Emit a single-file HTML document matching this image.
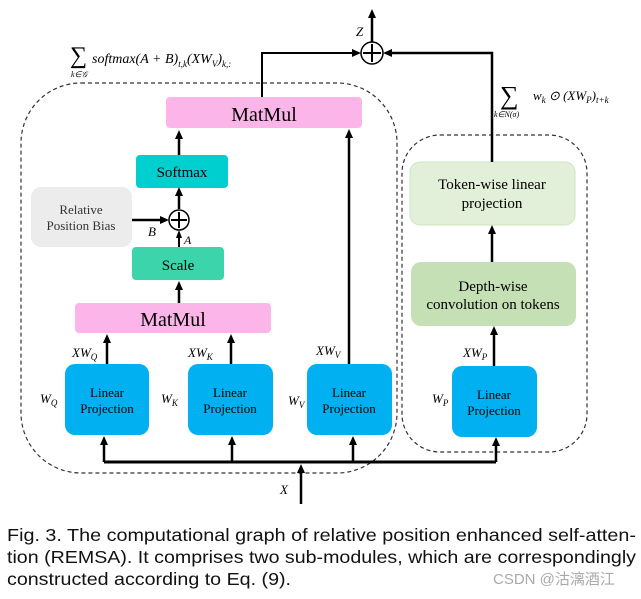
<!DOCTYPE html>
<html><head><meta charset="utf-8"><style>
html,body{margin:0;padding:0;background:#fff;}
svg{display:block;}
.t{font-family:"Liberation Serif",serif;}
.m{font-family:"Liberation Serif",serif;font-style:italic;}
.c{font-family:"Liberation Sans",sans-serif;font-size:17.5px;fill:#111;}
</style></head><body>
<svg width="641" height="599" viewBox="0 0 641 599" xmlns="http://www.w3.org/2000/svg">
<!-- dashed boxes -->
<rect x="21" y="83" width="376" height="390" rx="60" fill="none" stroke="#333" stroke-width="1.2" stroke-dasharray="4,3"/>
<rect x="402" y="135" width="185" height="317" rx="38" fill="none" stroke="#333" stroke-width="1.2" stroke-dasharray="4,3"/>
<!-- boxes -->
<rect x="166" y="97" width="196" height="31" rx="4" fill="#fcb5e9"/>
<text x="264" y="121" class="t" font-size="20" text-anchor="middle">MatMul</text>
<rect x="136" y="155" width="92" height="33" rx="4" fill="#00cfd0"/>
<text x="182" y="177" class="t" font-size="15" text-anchor="middle">Softmax</text>
<rect x="31" y="187" width="101" height="60" rx="10" fill="#ececec"/>
<text x="81" y="214" class="t" font-size="13" text-anchor="middle" fill="#333">Relative</text>
<text x="81" y="230" class="t" font-size="13" text-anchor="middle" fill="#333">Position Bias</text>
<rect x="132" y="247" width="92" height="33" rx="4" fill="#3cd5ab"/>
<text x="178" y="270" class="t" font-size="15" text-anchor="middle">Scale</text>
<rect x="75" y="303" width="196" height="30" rx="4" fill="#fcb5e9"/>
<text x="173" y="326" class="t" font-size="20" text-anchor="middle">MatMul</text>
<g fill="#00b0f0">
<rect x="65" y="364" width="84" height="71" rx="10"/>
<rect x="188" y="364" width="85" height="71" rx="10"/>
<rect x="307" y="364" width="85" height="71" rx="10"/>
<rect x="452" y="366" width="85" height="71" rx="10"/>
</g>
<g class="t" font-size="13" text-anchor="middle">
<text x="107" y="397">Linear</text><text x="107" y="413">Projection</text>
<text x="230" y="397">Linear</text><text x="230" y="413">Projection</text>
<text x="349" y="397">Linear</text><text x="349" y="413">Projection</text>
<text x="494" y="399">Linear</text><text x="494" y="415">Projection</text>
</g>
<rect x="410" y="162" width="165" height="63" rx="10" fill="#e2efd9" stroke="#cfe4c0"/>
<text x="492" y="189" class="t" font-size="15" text-anchor="middle">Token-wise linear</text>
<text x="492" y="208" class="t" font-size="15" text-anchor="middle">projection</text>
<rect x="411" y="262" width="165" height="64" rx="10" fill="#c5e0b4"/>
<text x="493" y="291" class="t" font-size="15" text-anchor="middle">Depth-wise</text>
<text x="493" y="309" class="t" font-size="15" text-anchor="middle">convolution on tokens</text>
<!-- plus circles -->
<circle cx="372" cy="53" r="11" fill="#fff" stroke="#000" stroke-width="1.5"/>
<path d="M372,44 V62 M363,53 H381" stroke="#000" stroke-width="2"/>
<circle cx="179" cy="220" r="10" fill="#fff" stroke="#000" stroke-width="1.5"/>
<path d="M179,212 V228 M171,220 H187" stroke="#000" stroke-width="2"/>
<!-- connectors -->
<g stroke="#000" stroke-width="2.5" fill="none">
<path d="M372,42 V16"/>
<path d="M262,97 V53 H354" stroke-width="2"/>
<path d="M492,162 V53 H390"/>
<path d="M179,155 V137"/>
<path d="M179,209 V194"/>
<path d="M132,220 H162"/>
<path d="M179,247 V236" stroke-width="2"/>
<path d="M179,303 V287"/>
<path d="M107,364 V341"/>
<path d="M231,364 V341"/>
<path d="M349,364 V136"/>
<path d="M494,366 V332"/>
<path d="M492,262 V232"/>
<path d="M104,462 H496" stroke-width="3"/>
<path d="M104,462 V443"/>
<path d="M232,462 V443"/>
<path d="M353,462 V443"/>
<path d="M496,462 V444"/>
<path d="M301,504 V471"/>
</g>
<g fill="#000">
<polygon points="372,9 368,18 376,18"/>
<polygon points="361,53 352,49 352,57"/>
<polygon points="383,53 392,49 392,57"/>
<polygon points="179,130 175,139 183,139"/>
<polygon points="179,187 175,196 183,196"/>
<polygon points="169,220 160,216 160,224"/>
<polygon points="179,230 176,238 182,238"/>
<polygon points="179,281 175,290 183,290"/>
<polygon points="107,334 103,343 111,343"/>
<polygon points="231,334 227,343 235,343"/>
<polygon points="349,129 345,138 353,138"/>
<polygon points="494,326 490,335 498,335"/>
<polygon points="492,225 488,234 496,234"/>
<polygon points="104,436 100,445 108,445"/>
<polygon points="232,436 228,445 236,445"/>
<polygon points="353,436 349,445 357,445"/>
<polygon points="496,437 492,446 500,446"/>
<polygon points="301,464 297,473 305,473"/>
</g>
<!-- labels -->
<g class="m" font-size="13">
<text x="356" y="36">Z</text>
<text x="148" y="236">B</text>
<text x="184" y="244" font-size="12">A</text>
<text x="72" y="357">XW<tspan font-size="9" dy="3">Q</tspan></text>
<text x="188" y="357">XW<tspan font-size="9" dy="3">K</tspan></text>
<text x="316" y="355">XW<tspan font-size="9" dy="3">V</tspan></text>
<text x="463" y="357">XW<tspan font-size="9" dy="3">P</tspan></text>
<text x="40" y="403">W<tspan font-size="9" dy="3">Q</tspan></text>
<text x="161" y="403">W<tspan font-size="9" dy="3">K</tspan></text>
<text x="288" y="405">W<tspan font-size="9" dy="3">V</tspan></text>
<text x="432" y="403">W<tspan font-size="9" dy="3">P</tspan></text>
<text x="280" y="494">X</text>
</g>
<!-- formulas -->
<text x="70" y="63" class="t" font-size="24">∑</text>
<text x="71" y="77" class="m" font-size="8">k∈𝒢</text>
<text x="92" y="63" class="m" font-size="14">softmax(A + B)<tspan font-size="9" dy="4">t,k</tspan><tspan dy="-4">(XW</tspan><tspan font-size="9" dy="4">V</tspan><tspan dy="-4">)</tspan><tspan font-size="9" dy="4">k,:</tspan></text>
<text x="500" y="104" class="t" font-size="26">∑</text>
<text x="494" y="117" class="m" font-size="8">k∈N(σ)</text>
<text x="533" y="100" class="m" font-size="13">w<tspan font-size="9" dy="3">k</tspan><tspan dy="-3"> ⊙ (XW</tspan><tspan font-size="9" dy="3">P</tspan><tspan dy="-3">)</tspan><tspan font-size="9" dy="3">t+k</tspan></text>
<!-- caption -->
<text x="7" y="541" class="c" textLength="629" lengthAdjust="spacingAndGlyphs">Fig. 3. The computational graph of relative position enhanced self-atten-</text>
<text x="7" y="563" class="c" textLength="629" lengthAdjust="spacingAndGlyphs">tion (REMSA). It comprises two sub-modules, which are correspondingly</text>
<text x="7" y="585" class="c" textLength="284" lengthAdjust="spacingAndGlyphs">constructed according to Eq. (9).</text>
<text x="493" y="584" font-family="Liberation Sans, Noto Sans CJK SC, sans-serif" font-size="15" fill="#aaa">CSDN @沽漓酒江</text>
</svg>
</body></html>
